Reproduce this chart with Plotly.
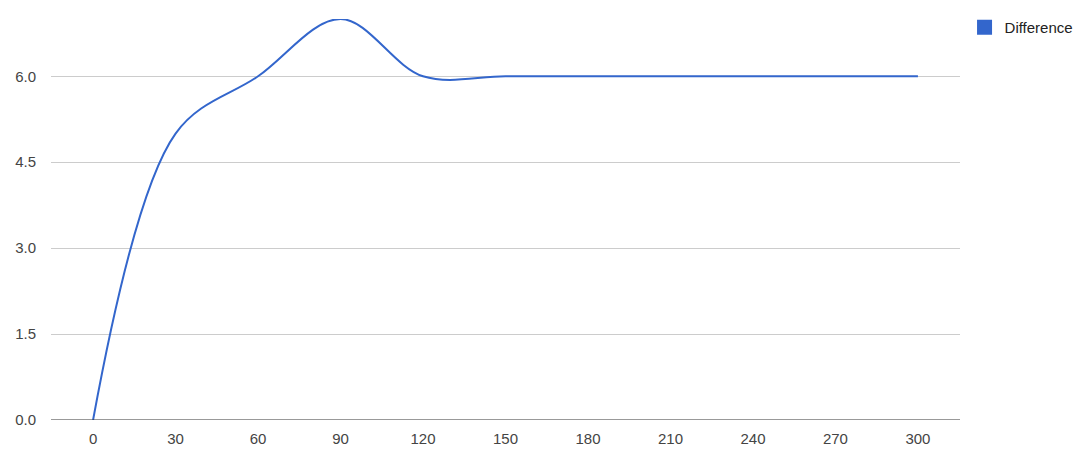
import plotly.graph_objects as go

# minutes and difference values
minutes = [0, 30, 60, 90, 120, 150, 180, 210, 240, 270, 300]
difference = [0, 5, 6, 7, 6, 6, 6, 6, 6, 6, 6]

y_ticks = [0, 1.5, 3, 4.5, 6]
blue = '#3366cc'

fig = go.Figure()
fig.add_trace(go.Scatter(x=minutes, y=difference, mode='lines',
                         line=dict(color=blue, width=2, shape='spline', smoothing=1.0),
                         showlegend=False, cliponaxis=False))
# square legend entry like google charts
fig.add_trace(go.Scatter(x=[None], y=[None], mode='markers', name='Difference',
                         marker=dict(color=blue, symbol='square', size=15)))

# page has an 8px body margin, so size the figure to fit the window
fig.update_layout(
    width=1077, height=467,
    margin=dict(l=43, r=125, t=11, b=55, autoexpand=False),
    plot_bgcolor='white', paper_bgcolor='white',
    font=dict(family='Arial, Liberation Sans', size=15, color='#444'),
    legend=dict(x=1.005, y=1.02, xanchor='left', yanchor='top',
                font=dict(size=15, color='#222')),
    xaxis=dict(range=[-15.3, 315.3], tickvals=minutes, showgrid=False,
               zeroline=False, showline=False, ticks='', ticklabelstandoff=8),
    yaxis=dict(range=[0, 7.0], tickvals=y_ticks, tickformat='.1f',
               gridcolor='#cccccc', zeroline=False, showline=False, ticks='',
               ticklabelstandoff=14),
)
fig.add_hline(y=0, line=dict(color='#333333', width=1))

fig.write_html("out.html")
